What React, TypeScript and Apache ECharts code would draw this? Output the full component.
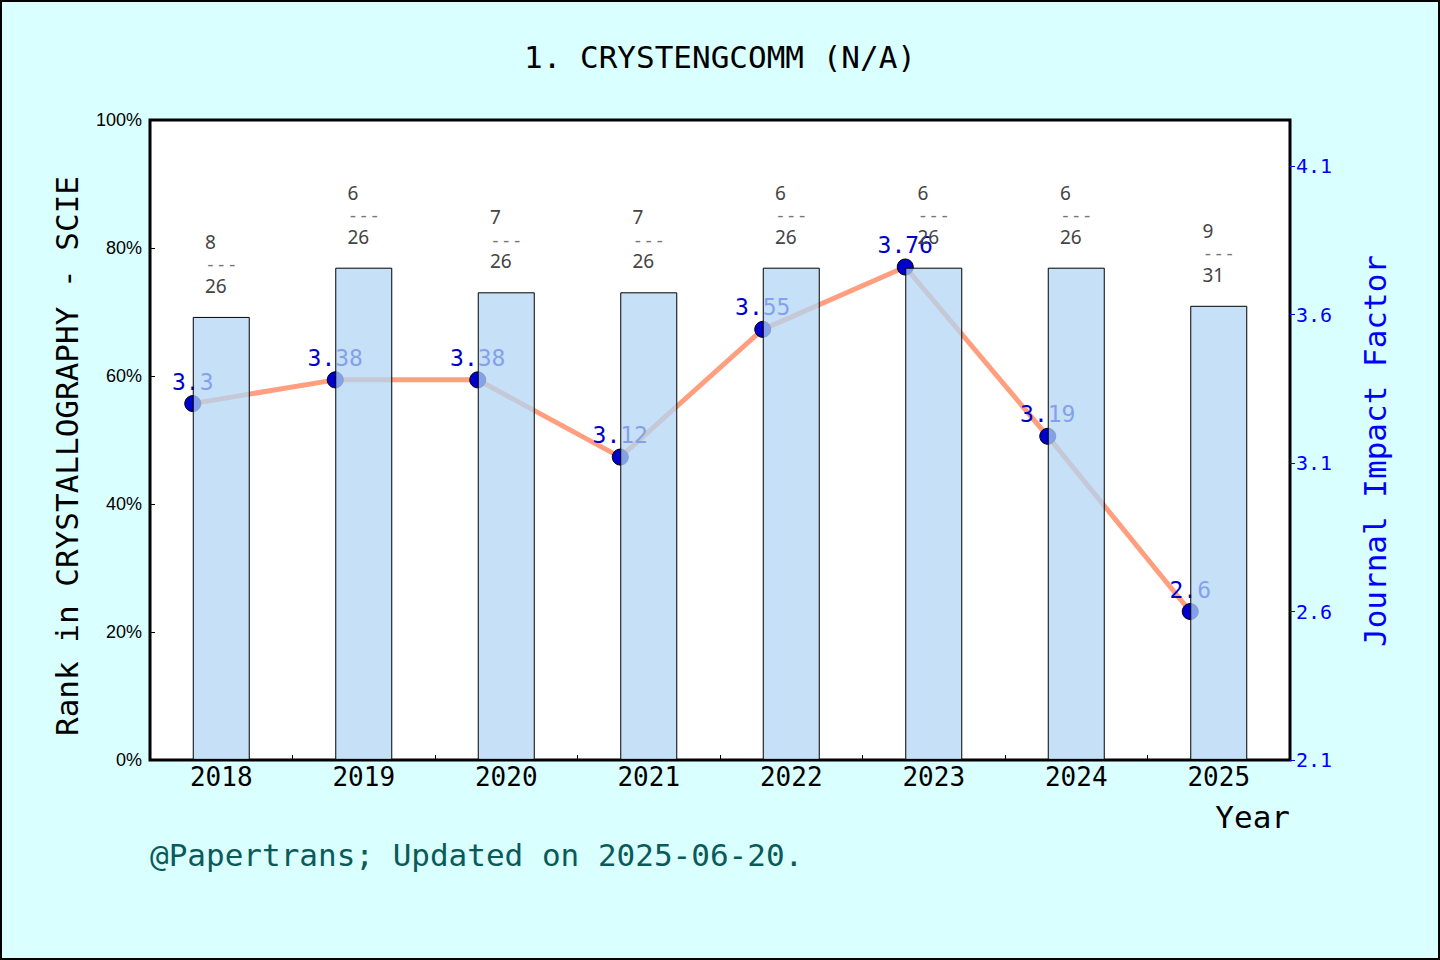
import React, { useEffect, useRef } from "react";
import * as echarts from "echarts";

// 数据
const years = ["2018", "2019", "2020", "2021", "2022", "2023", "2024", "2025"];
const rankValues = [8, 6, 7, 7, 6, 6, 6, 9];
const totalJournals = [26, 26, 26, 26, 26, 26, 26, 31];
const impactFactors = [3.3, 3.38, 3.38, 3.12, 3.55, 3.76, 3.19, 2.6];

const mono = "'DejaVu Sans Mono', monospace";

const App = () => {
    const chartRef = useRef<HTMLDivElement>(null);

    useEffect(() => {
        document.body.style.margin = "0";
        const chart = echarts.init(chartRef.current, null, { renderer: "svg" });

        // 排名百分比 = 1 - rank / total
        const rankPercent = rankValues.map((r, i) => (1 - r / totalJournals[i]) * 100);

        const option = {
            animation: false,
            backgroundColor: "#d9ffff",
            title: {
                text: "1. CRYSTENGCOMM (N/A)",
                left: "center",
                top: 36,
                textStyle: { fontFamily: mono, fontSize: 31, fontWeight: "normal", color: "#000" },
            },
            grid: {
                left: 150,
                top: 120,
                width: 1140,
                height: 640,
                show: true,
                backgroundColor: "#fff",
                borderColor: "#000",
                borderWidth: 3,
            },
            xAxis: [
                {
                    type: "category",
                    data: years,
                    axisLine: { show: false, onZero: false },
                    axisTick: { show: true, inside: true, length: 5, lineStyle: { color: "#000" } },
                    axisLabel: { color: "#000", fontFamily: mono, fontSize: 26, margin: 4 },
                },
                {
                    // 折线用的数值轴，点落在柱子左边缘
                    type: "value",
                    min: -0.5,
                    max: 7.5,
                    show: false,
                    axisLine: { onZero: false },
                },
            ],
            yAxis: [
                {
                    type: "value",
                    min: 0,
                    max: 100,
                    interval: 20,
                    splitLine: { show: false },
                    axisLine: { show: false, onZero: false },
                    axisTick: { show: true, inside: true, length: 5, lineStyle: { color: "#000" } },
                    axisLabel: {
                        formatter: "{value}%",
                        color: "#000",
                        fontFamily: "'Liberation Sans', Arial, sans-serif",
                        fontSize: 18,
                        margin: 8,
                    },
                },
                {
                    type: "value",
                    position: "right",
                    min: 2.1,
                    max: 4.255,
                    interval: 0.5,
                    splitLine: { show: false },
                    axisLine: { show: false, onZero: false },
                    axisTick: { show: true, inside: false, length: 5, lineStyle: { color: "#0000ff" } },
                    axisLabel: {
                        formatter: (v: number) => v.toFixed(1),
                        showMaxLabel: false,
                        color: "#0000ff",
                        fontFamily: mono,
                        fontSize: 20,
                        margin: 6,
                    },
                },
            ],
            series: [
                {
                    type: "line",
                    xAxisIndex: 1,
                    yAxisIndex: 1,
                    z: 1,
                    data: impactFactors.map((v, i) => [i - 0.2, v]),
                    lineStyle: { color: "#ff9f7f", width: 5 },
                    symbol: "circle",
                    symbolSize: 16,
                    itemStyle: { color: "#0000cc", borderColor: "#000", borderWidth: 1 },
                    label: {
                        show: true,
                        position: "top",
                        distance: 2,
                        formatter: (p: any) => String(p.value[1]),
                        color: "#0000cc",
                        fontFamily: mono,
                        fontSize: 23,
                    },
                },
                {
                    type: "bar",
                    z: 2,
                    data: rankPercent,
                    barWidth: "40%",
                    itemStyle: { color: "rgba(178,214,244,0.75)", borderColor: "#000", borderWidth: 1 },
                    label: {
                        show: true,
                        position: "top",
                        distance: 20,
                        formatter: (p: any) =>
                            `{a|${rankValues[p.dataIndex]}}\n{b|---}\n{a|${totalJournals[p.dataIndex]}}`,
                        rich: {
                            a: { align: "left", color: "#444", fontFamily: "'Noto Sans', sans-serif", fontSize: 19, lineHeight: 22 },
                            b: { align: "left", color: "#777", fontFamily: mono, fontSize: 18, lineHeight: 22 },
                        },
                    },
                },
            ],
            graphic: [
                {
                    type: "rect",
                    shape: { x: 1, y: 1, width: 1438, height: 958 },
                    style: { fill: "none", stroke: "#000", lineWidth: 2 },
                },
                {
                    type: "text",
                    x: 67,
                    y: 456,
                    rotation: Math.PI / 2,
                    style: {
                        text: "Rank in CRYSTALLOGRAPHY - SCIE",
                        fontFamily: mono,
                        fontSize: 31,
                        fill: "#000",
                        align: "center",
                        verticalAlign: "middle",
                    },
                },
                {
                    type: "text",
                    x: 1375,
                    y: 451,
                    rotation: Math.PI / 2,
                    style: {
                        text: "Journal Impact Factor",
                        fontFamily: mono,
                        fontSize: 31,
                        fill: "#0000ff",
                        align: "center",
                        verticalAlign: "middle",
                    },
                },
                {
                    type: "text",
                    x: 1290,
                    y: 817,
                    style: {
                        text: "Year",
                        fontFamily: mono,
                        fontSize: 31,
                        fill: "#000",
                        align: "right",
                        verticalAlign: "middle",
                    },
                },
                {
                    type: "text",
                    x: 150,
                    y: 855,
                    style: {
                        text: "@Papertrans; Updated on 2025-06-20.",
                        fontFamily: mono,
                        fontSize: 31,
                        fill: "#0a5a5a",
                        align: "left",
                        verticalAlign: "middle",
                    },
                },
            ],
        };

        chart.setOption(option);

        return () => {
            chart.dispose();
        };
    }, []);

    return <div ref={chartRef} style={{ width: 1440, height: 960 }} />;
};

export default App;
